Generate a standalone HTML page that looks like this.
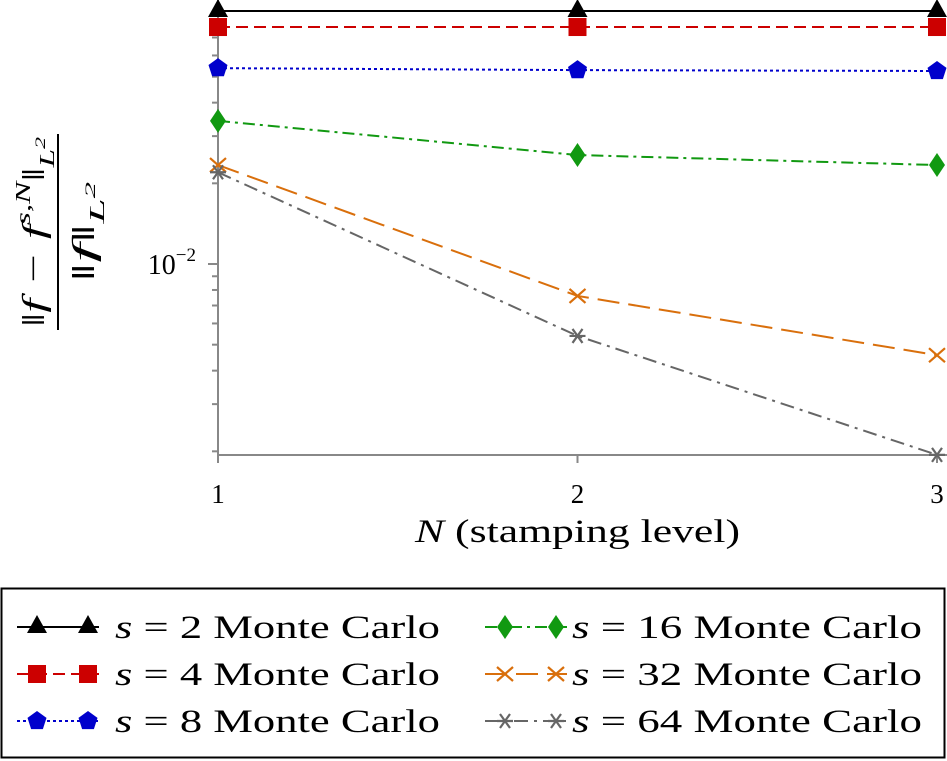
<!DOCTYPE html>
<html><head><meta charset="utf-8"><style>
body{margin:0;background:#fff;width:947px;height:761px;overflow:hidden}
svg{display:block}
text{font-family:"Liberation Serif",serif;fill:#000}
</style></head><body>
<svg id="chart" width="947" height="761" xmlns="http://www.w3.org/2000/svg">
<g id="axes"></g>
<g id="series"></g>
<g transform="translate(58,232) rotate(-90)">
  <text x="0" y="-14" text-anchor="middle" font-size="32" font-style="italic" textLength="190" lengthAdjust="spacingAndGlyphs">‖f − f<tspan font-size="21" dy="-14">s,N</tspan><tspan dy="14">‖</tspan><tspan font-size="21" dy="10">L</tspan><tspan font-size="15" dy="-9">2</tspan></text>
  <line x1="-98" y1="0" x2="98" y2="0" stroke="#000" stroke-width="2"/>
  <text x="0" y="36" text-anchor="middle" font-size="32" font-style="italic" textLength="100" lengthAdjust="spacingAndGlyphs">‖f‖<tspan font-size="21" dy="10">L</tspan><tspan font-size="15" dy="-9">2</tspan></text>
</g>
<text x="415" y="542" font-size="33" textLength="325" lengthAdjust="spacingAndGlyphs"><tspan font-style="italic">N</tspan> (stamping level)</text>
<rect x="1.5" y="588.5" width="943" height="169" fill="none" stroke="#000" stroke-width="2"/>
<g id="legend"></g>
</svg>
<script>
const categories = [1, 2, 3];
const seriesNames = ["s = 2", "s = 4", "s = 8", "s = 16", "s = 32", "s = 64"];
const s2 = [0.0879, 0.0879, 0.0879];
const s4 = [0.0766, 0.0766, 0.0766];
const s8 = [0.0538, 0.0529, 0.0525];
const s16 = [0.0342, 0.0255, 0.0234];
const s32 = [0.0234, 0.0076, 0.00457];
const s64 = [0.0220, 0.00539, 0.00194];
const yMajorTicks = [0.01];
const yMinorTicks = [0.002,0.003,0.004,0.005,0.006,0.007,0.008,0.009,0.02,0.03,0.04,0.05,0.06,0.07,0.08];
const xTickLabels = ["1", "2", "3"];

const NS="http://www.w3.org/2000/svg";
const X0=218, X1=937, YB=455;
const xScale = v => X0 + (v-1)/(3-1)*(X1-X0);
const yScale = v => 264 - Math.log10(v/0.01)*268;
function mk(tag, attrs, parent){const e=document.createElementNS(NS,tag);for(const k in attrs)e.setAttribute(k,attrs[k]);parent.appendChild(e);return e;}
const axes=document.getElementById('axes');
let a=mk('line',{x1:X0,y1:0,x2:X0,y2:YB+8,stroke:'#888','stroke-width':2},axes);


a=mk('line',{x1:X0,y1:YB,x2:947,y2:YB,stroke:'#888','stroke-width':2},axes);


yMinorTicks.forEach(v=>{const y=yScale(v);if(y<0||y>YB)return;
 const t=mk('line',{x1:X0-6,y1:y,x2:X0,y2:y,stroke:'#888','stroke-width':2},axes);
 
 });
yMajorTicks.forEach(v=>{const y=yScale(v);
 const t=mk('line',{x1:X0-10,y1:y,x2:X0,y2:y,stroke:'#888','stroke-width':2},axes);
 
 
 const l=mk('text',{x:X0-22,y:y+10,'text-anchor':'end','font-size':28},axes);
 
 
 l.innerHTML='10<tspan font-size="19" dy="-13">−2</tspan>';});
categories.forEach((c,i)=>{const x=xScale(c);
 const t=mk('line',{x1:x,y1:YB,x2:x,y2:YB+8,stroke:'#888','stroke-width':2},axes);
 
 
 const l=mk('text',{x:Math.min(x,937),y:YB+48,'text-anchor':'middle','font-size':27},axes);
 
 
 l.textContent=xTickLabels[i];});

const styles=[
 {data:s2,color:'#000',dash:'',m:'tri'},
 {data:s4,color:'#cc0000',dash:'12 6',m:'sq'},
 {data:s8,color:'#0000cc',dash:'3 3',m:'pent'},
 {data:s16,color:'#119911',dash:'12 5 3 5',m:'dia'},
 {data:s32,color:'#d96f0c',dash:'22 9',m:'x'},
 {data:s64,color:'#666',dash:'14 6 3 6',m:'star'}];
function marker(g,type,x,y,color){
 let e;
 if(type==='tri') e=mk('polygon',{points:`${x},${y-12} ${x-10},${y+6} ${x+10},${y+6}`,fill:color},g);
 else if(type==='sq') e=mk('rect',{x:x-9,y:y-9,width:18,height:18,fill:color},g);
 else if(type==='pent'){let p=[];for(let k=0;k<5;k++){const an=-Math.PI/2+k*2*Math.PI/5;p.push((x+10*Math.cos(an))+','+(y+10*Math.sin(an)));}e=mk('polygon',{points:p.join(' '),fill:color},g);}
 else if(type==='dia') e=mk('polygon',{points:`${x},${y-12} ${x+8},${y} ${x},${y+12} ${x-8},${y}`,fill:color},g);
 else if(type==='x') e=mk('path',{d:`M${x-8},${y-7}L${x+8},${y+7}M${x-8},${y+7}L${x+8},${y-7}`,stroke:color,'stroke-width':2.2,fill:'none'},g);
 else e=mk('path',{d:`M${x-8},${y}L${x+8},${y}M${x-5},${y-7}L${x+5},${y+7}M${x-5},${y+7}L${x+5},${y-7}`,stroke:color,'stroke-width':2.2,fill:'none'},g);
 
 
}
const sg=document.getElementById('series');
styles.forEach((s,i)=>{
 const g=mk('g',{},sg);
 
 
 const pts=s.data.map((v,j)=>xScale(categories[j])+','+yScale(v)).join(' ');
 const pl=mk('polyline',{points:pts,fill:'none',stroke:s.color,'stroke-width':2,'stroke-dasharray':s.dash},g);
 
 
 s.data.forEach((v,j)=>marker(g,s.m,xScale(categories[j]),yScale(v),s.color));
});
const lg=document.getElementById('legend');
styles.forEach((s,i)=>{
 const col=i<3?0:1,row=i%3;
 const x0=col?485:17, y=627+row*47;
 const g=mk('g',{},lg);
 
 
 mk('line',{x1:x0,y1:y,x2:x0+82,y2:y,stroke:s.color,'stroke-width':2,'stroke-dasharray':s.dash},g);
 marker(g,s.m,x0+20,y,s.color);marker(g,s.m,x0+71,y,s.color);
 const t=mk('text',{x:col?572:115,y:y+11,'font-size':33,textLength:col?350:325,lengthAdjust:'spacingAndGlyphs'},g);
 t.innerHTML='<tspan font-style="italic">s</tspan> = '+seriesNames[i].split('= ')[1]+' Monte Carlo';
});
</script>
</body></html>
